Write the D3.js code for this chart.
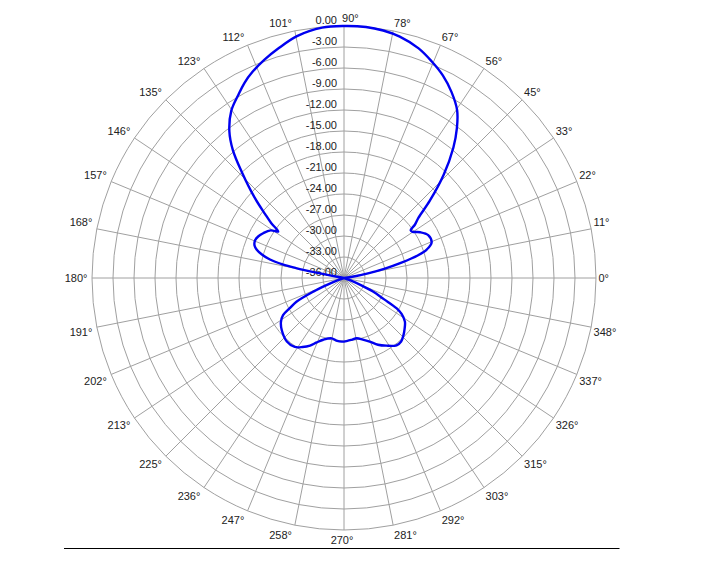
<!DOCTYPE html>
<html>
<head>
<meta charset="utf-8">
<script src="https://cdn.jsdelivr.net/npm/d3@7"></script>
<style>
  html, body { margin: 0; padding: 0; background: #fff; }
  text { font-family: "Liberation Sans", Arial, sans-serif; font-size: 11px; fill: #222; }
</style>
</head>
<body>
<div id="chart"></div>
<script>
// angle in degrees (0 = right, counter-clockwise), gain in dB
const angleDeg = [0, 5, 8, 11, 13, 15, 17, 19, 22, 27, 31, 34, 35.5, 37, 39, 42, 46, 50, 53, 56,
  60, 64, 68, 72, 77, 81, 85, 90, 95, 101, 106, 110, 114, 117, 120, 124, 128, 131, 134,
  138, 141, 143, 144.8, 147, 151, 154, 157, 160, 162, 164, 166, 167.5, 168.3, 169, 170, 172, 180,
  195, 199, 202, 204, 206.6, 209, 211.4, 215, 220, 228, 234.5, 239, 243.3, 247, 251.5, 258.5,
  263, 268, 273, 277, 282, 287, 292, 297, 302, 308, 312, 316, 320, 324.4, 328, 330, 332, 335,
  337, 340, 345, 350, 355];
const gainDb = [-36, -36, -35, -32.5, -30, -27.5, -25, -23.5, -22.5, -22.5, -23.3, -24.2, -24.3, -23.3, -22.3, -19.5, -15.5, -11.7, -9.2, -7.1,
  -5.3, -3.8, -2.6, -1.5, -0.6, -0.2, 0, 0, -0.1, -0.8, -1.9, -2.8, -3.8, -4.7, -5.8, -7.2, -9.4, -11.8, -15.0,
  -18.8, -21.5, -23, -24.5, -23.5, -22.8, -22.4, -22.2, -22.4, -22.9, -23.8, -25.1, -27, -29, -32, -35, -36, -36,
  -36, -35, -33.3, -31.2, -28.4, -27.2, -25.8, -25, -24.4, -23.8, -23.9, -24.5, -25.2, -26, -26.7, -27.2,
  -27, -26.9, -27, -27.1, -27.2, -26.8, -26.2, -25.3, -24.6, -23.8, -23.8, -24.2, -24.7, -25.3, -26.3, -27.3, -29.5, -31.5,
  -33.3, -35, -36, -36, -36];

const ringValues = [-36, -33, -30, -27, -24, -21, -18, -15, -12, -9, -6, -3, 0];
const spokeAngles = d3.range(0, 360, 11.25);
const spokeLabels = ["0", "11", "22", "33", "45", "56", "67", "78", "90", "101", "112", "123", "135", "146", "157", "168",
  "180", "191", "202", "213", "225", "236", "247", "258", "270", "281", "292", "303", "315", "326", "337", "348"];

const width = 719, height = 566;
const cx = 344, cy = 278, R = 252;

const svg = d3.select("#chart").append("svg")
  .attr("width", width)
  .attr("height", height);

const r = d3.scaleLinear().domain([-36, 0]).range([0, R]).clamp(true);
const rad = d => d * Math.PI / 180;

const g = svg.append("g")
  .attr("transform", "translate(" + cx + "," + cy + ")");

// rings
g.selectAll(".ring")
  .data(ringValues.filter(v => v > -36))
  .enter().append("circle")
    .attr("class", "ring")
    .attr("r", d => r(d))
    .attr("fill", "none")
    .attr("stroke", "#a0a0a0")
    .attr("stroke-width", 1);

// spokes
g.selectAll(".spoke")
  .data(spokeAngles)
  .enter().append("line")
    .attr("class", "spoke")
    .attr("x1", 0).attr("y1", 0)
    .attr("x2", d => R * Math.cos(rad(d)))
    .attr("y2", d => -R * Math.sin(rad(d)))
    .attr("stroke", "#a0a0a0")
    .attr("stroke-width", 1);

// ring labels along the 90 deg spoke
g.selectAll(".ringLabel")
  .data(ringValues)
  .enter().append("text")
    .attr("class", "ringLabel")
    .attr("x", -7)
    .attr("y", d => -r(d) - 2)
    .attr("text-anchor", "end")
    .text(d => d.toFixed(2));

// angle labels
const labR = R + 2;
g.selectAll(".angLabel")
  .data(spokeAngles)
  .enter().append("text")
    .attr("class", "angLabel")
    .attr("x", d => {
      let px = labR * Math.cos(rad(d));
      if (d === 90 || d === 270) return px - 2;
      return d < 90 || d > 270 ? px + 0.5 : px - 2.5;
    })
    .attr("y", d => {
      let py = -labR * Math.sin(rad(d));
      if (d === 0 || d === 180) return py + 4;
      if (d < 180) return py - 2;
      return py + 8 + 3.5 * Math.abs(Math.sin(rad(d)));
    })
    .attr("text-anchor", d => {
      if (d === 270) return "middle";
      if (d === 90) return "start";
      return d < 90 || d > 270 ? "start" : "end";
    })
    .text((d, i) => spokeLabels[i] + "\u00b0");

// pattern
const pts = angleDeg.map((a, i) => [a, gainDb[i]]);
const line = d3.lineRadial()
  .angle(d => rad(90 - d[0]))
  .radius(d => r(d[1]))
  .curve(d3.curveCatmullRomClosed.alpha(0.5));

g.append("path")
  .datum(pts)
  .attr("d", line)
  .attr("fill", "none")
  .attr("stroke", "#0000f0")
  .attr("stroke-width", 2.4)
  .attr("stroke-linejoin", "round");

// bottom rule
svg.append("line")
  .attr("x1", 64).attr("x2", 619.5)
  .attr("y1", 548.5).attr("y2", 548.5)
  .attr("stroke", "#000")
  .attr("stroke-width", 1.2);
</script>
</body>
</html>
